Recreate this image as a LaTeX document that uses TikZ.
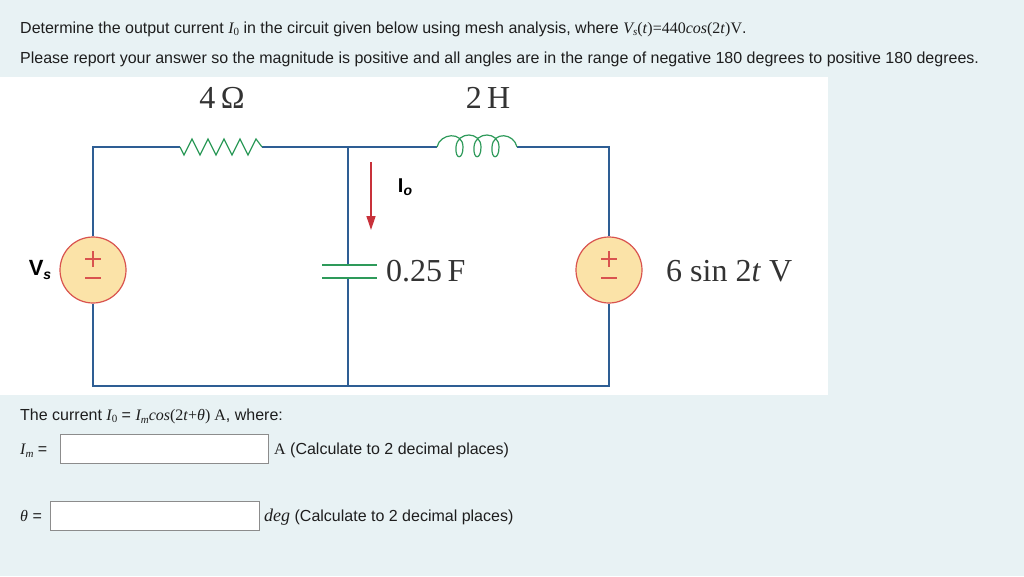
\documentclass[tikz,border=0pt]{standalone}
\usepackage{fontspec}
\setmainfont{Liberation Sans}
\newfontfamily\tms{Liberation Serif}
\usetikzlibrary{arrows.meta}
\definecolor{bgc}{HTML}{E8F2F4}
\definecolor{wire}{HTML}{2E5E94}
\definecolor{grn}{HTML}{2E9A5A}
\definecolor{srcfill}{HTML}{FBE3A8}
\definecolor{srcedge}{HTML}{D9534F}
\definecolor{arr}{HTML}{C8313A}
\definecolor{txt}{HTML}{1E1E1E}
\tikzset{
  w/.style={draw=wire,line width=1.3pt},
  comp/.style={draw=grn,line width=1.2pt},
  src/.style={circle,draw=srcedge,fill=srcfill,line width=1.2pt,minimum size=66pt,inner sep=0pt},
  qtext/.style={anchor=base west,inner sep=0pt,text=txt,font=\fontsize{16}{19}\selectfont},
  clab/.style={inner sep=0pt,text=black!80,font=\tms\fontsize{32}{34}\selectfont},
  ibox/.style={draw=black!45,fill=white,line width=0.6pt}
}
\begin{document}
\begin{tikzpicture}[x=1pt,y=-1pt]
\fill[bgc] (0,0) rectangle (1024,576);
\useasboundingbox (0,0) rectangle (1024,576);
\fill[white] (0,77) rectangle (828,395);
% text
\node[qtext] (l1) at (20,33) {Determine the output current {\tms\itshape I}{\tms\fontsize{11}{11}\selectfont\raisebox{-2pt}{0}} in the circuit given below using mesh analysis, where {\tms\itshape V\raisebox{-2pt}{\fontsize{11}{11}\selectfont s}}{\tms(\textit{t})=440\textit{cos}(2\textit{t})V}.};
\node[qtext] (l2) at (20,63) {Please report your answer so the magnitude is positive and all angles are in the range of negative 180 degrees to positive 180 degrees.};
% coordinates
\coordinate (tl) at (93,147); \coordinate (tm) at (348,147); \coordinate (tr) at (609,147);
\coordinate (bl) at (93,386); \coordinate (bm) at (348,386); \coordinate (br) at (609,386);
\coordinate (r1) at (180,147); \coordinate (r2) at (262,147);
\coordinate (i1) at (437,147); \coordinate (i2) at (517,147);
\coordinate (c1) at (348,265); \coordinate (c2) at (348,278);
\node[src] (vs) at (93,270) {};
\node[src] (v2) at (609,270) {};
\foreach \s in {vs,v2}{
  \draw[srcedge,line width=1.2pt] ([yshift=19pt]\s.center) -- ([yshift=3pt]\s.center) ([xshift=-8pt,yshift=11pt]\s.center) -- ([xshift=8pt,yshift=11pt]\s.center);
  \draw[srcedge,line width=1.2pt] ([xshift=-8pt,yshift=-8pt]\s.center) -- ([xshift=8pt,yshift=-8pt]\s.center);
}
\draw[w] (vs.north) -- (tl) -- (r1);
\draw[w] (r2) -- (tm) -- (i1);
\draw[w] (i2) -- (tr) -- (v2.north);
\draw[w] (v2.south) -- (br) -- (bl) -- (vs.south);
\draw[w] (tm) -- (c1); \draw[w] (c2) -- (bm);
\draw[comp] (r1) -- (184,155) -- (192,139) -- (200,155) -- (208,139) -- (216,155) -- (224,139) -- (232,155) -- (240,139) -- (248,155) -- (256,139) -- (r2);
\draw[comp] (i1) .. controls (440,133) and (463,131) .. (463,147)
  .. controls (463,160) and (455,160) .. (456,147)
  .. controls (457,131) and (481,131) .. (481,147)
  .. controls (481,160) and (473,160) .. (474,147)
  .. controls (475,131) and (499,131) .. (499,147)
  .. controls (499,160) and (491,160) .. (492,147)
  .. controls (493,131) and (514,133) .. (i2);
\draw[comp] (322,265) -- (377,265); \draw[comp] (322,278) -- (377,278);
\draw[arr,line width=1.3pt,-{Triangle[length=14pt,width=9pt]}] (371,162) -- (371,230);
\node[inner sep=0pt,font=\bfseries\fontsize{20}{20}\selectfont] (io) at (405,187) {I\raisebox{-3pt}{\fontsize{14}{14}\selectfont\textit{o}}};
\node[inner sep=0pt,font=\bfseries\fontsize{22}{22}\selectfont] (vsl) at (40,270) {V\raisebox{-4pt}{\fontsize{14}{14}\selectfont\textit{s}}};
\node[clab] (rl) at (222,98) {4\,Ω};
\node[clab] (ll) at (488,98) {2\,H};
\node[clab,anchor=west] (cl) at (386,271) {0.25\,F};
\node[clab,anchor=west] (vl) at (666,271) {6 sin 2\textit{t} V};
% answers
\node[qtext] (a1) at (20,420) {The current {\tms\itshape I}{\tms\fontsize{11}{11}\selectfont\raisebox{-2pt}{0}} = {\tms\itshape I\raisebox{-3pt}{\fontsize{11}{11}\selectfont m}cos}{\tms(2\textit{t}+\textit{θ}) A}, where:};
\node[qtext] (a2) at (20,454) {{\tms\itshape I\raisebox{-3pt}{\fontsize{11}{11}\selectfont m}} =};
\draw[ibox] (60,434) rectangle (268,463);
\node[qtext] (a3) at (274,454) {{\tms A} (Calculate to 2 decimal places)};
\node[qtext] (a4) at (20,521) {{\tms\itshape θ} =};
\draw[ibox] (50,501) rectangle (259,530);
\node[qtext] (a5) at (264,521) {{\tms\itshape\fontsize{18}{18}\selectfont deg} (Calculate to 2 decimal places)};
\end{tikzpicture}
\end{document}
